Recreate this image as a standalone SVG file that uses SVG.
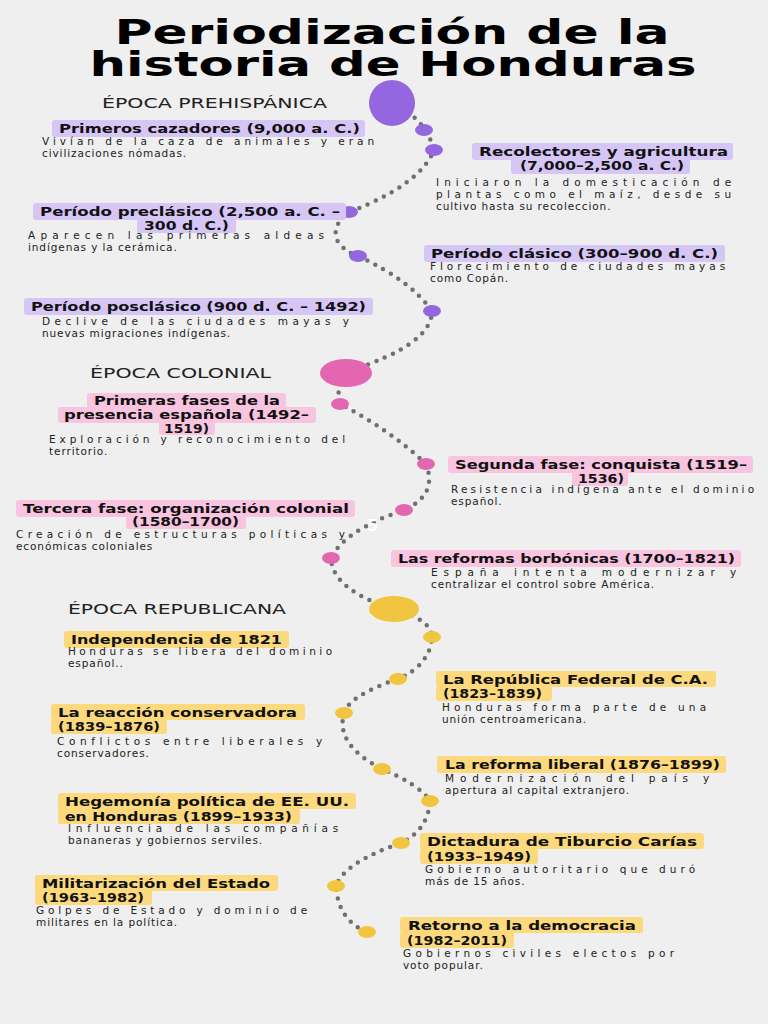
<svg xmlns="http://www.w3.org/2000/svg" width="768" height="1024" viewBox="0 0 768 1024">
<style>
.t{font-family:"DejaVu Sans","Liberation Sans",sans-serif;font-weight:700;font-size:12.5px;fill:#111}
.d{font-family:"DejaVu Sans","Liberation Sans",sans-serif;font-size:10.5px;fill:#222;letter-spacing:0.9px}
.h{font-family:"DejaVu Sans","Liberation Sans",sans-serif;font-size:14.5px;fill:#222}
.ti{font-family:"DejaVu Sans","Liberation Sans",sans-serif;font-weight:700;font-size:34px;fill:#000}
.p{fill:#d6c6f6}.k{fill:#f8c4df}.y{fill:#fbd97c}
.cp{fill:#9466e0}.ck{fill:#e465b0}.cy{fill:#f1c540}
</style>
<rect width="768" height="1024" fill="#efefef"/>
<text class="ti" x="392" y="44" text-anchor="middle" textLength="555" lengthAdjust="spacingAndGlyphs">Periodización de la</text>
<text class="ti" x="393" y="76" text-anchor="middle" textLength="607" lengthAdjust="spacingAndGlyphs">historia de Honduras</text>
<g id="connectors">
<path d="M392,103 Q420,118 424,130 Q432,140 434,150 Q420,185 349,212 Q328,228 340,245 Q350,254 358,256 Q410,280 432,311 Q432,345 346,372 Q335,392 340,404 Q390,430 426,464 Q438,495 404,510 Q345,530 331,558 Q332,590 394,609 Q432,620 432,637 Q430,665 398,679 Q350,695 344,713 Q335,745 382,769 Q420,785 430,801 Q428,830 401,843 Q345,862 336,886 Q338,920 367,932" fill="none" stroke="#707070" stroke-width="4.5" stroke-linecap="round" stroke-dasharray="0 9"/>
</g>
<g id="markers">
<circle class="cp" cx="392" cy="103" r="23"/>
<ellipse class="cp" cx="424" cy="130" rx="9" ry="6"/>
<ellipse class="cp" cx="434" cy="150" rx="9" ry="6"/>
<ellipse class="cp" cx="349" cy="212" rx="9" ry="6"/>
<ellipse class="cp" cx="358" cy="256" rx="9" ry="6"/>
<ellipse class="cp" cx="432" cy="311" rx="9" ry="6"/>
<ellipse class="ck" cx="346" cy="373" rx="26" ry="14"/>
<ellipse class="ck" cx="340" cy="404" rx="9" ry="6"/>
<ellipse class="ck" cx="426" cy="464" rx="9" ry="6"/>
<ellipse class="ck" cx="404" cy="510" rx="9" ry="6"/>
<ellipse class="ck" cx="331" cy="558" rx="9" ry="6"/>
<ellipse class="cy" cx="394" cy="609" rx="25" ry="13"/>
<ellipse class="cy" cx="432" cy="637" rx="9" ry="6"/>
<ellipse class="cy" cx="398" cy="679" rx="9" ry="6"/>
<ellipse class="cy" cx="344" cy="713" rx="9" ry="6"/>
<ellipse class="cy" cx="382" cy="769" rx="9" ry="6"/>
<ellipse class="cy" cx="430" cy="801" rx="9" ry="6"/>
<ellipse class="cy" cx="401" cy="843" rx="9" ry="6"/>
<ellipse class="cy" cx="336" cy="886" rx="9" ry="6"/>
<ellipse class="cy" cx="367" cy="932" rx="9" ry="6"/>
</g>
<text class="h" x="102" y="108" textLength="225" lengthAdjust="spacingAndGlyphs">ÉPOCA PREHISPÁNICA</text>
<text class="h" x="90" y="378" textLength="181" lengthAdjust="spacingAndGlyphs">ÉPOCA COLONIAL</text>
<text class="h" x="68" y="614" textLength="218" lengthAdjust="spacingAndGlyphs">ÉPOCA REPUBLICANA</text>

<g id="n1"><rect class="p" x="52" y="120" width="313" height="17" rx="3"/>
<text class="t" x="59" y="133" textLength="301" lengthAdjust="spacingAndGlyphs">Primeros cazadores (9,000 a. C.)</text>
<text class="d" x="42" y="145" textLength="333" lengthAdjust="spacing">Vivían de la caza de animales y eran</text>
<text class="d" x="42" y="157">civilizaciones nómadas.</text></g>

<g id="n2"><rect class="p" x="472" y="143" width="261" height="17" rx="3"/><rect class="p" x="511" y="158" width="179" height="16" rx="3"/>
<text class="t" x="479" y="156" textLength="249" lengthAdjust="spacingAndGlyphs">Recolectores y agricultura</text>
<text class="t" x="520" y="170" textLength="164" lengthAdjust="spacingAndGlyphs">(7,000–2,500 a. C.)</text>
<text class="d" x="436" y="186" textLength="296" lengthAdjust="spacing">Iniciaron la domesticación de</text>
<text class="d" x="436" y="198" textLength="296" lengthAdjust="spacing">plantas como el maíz, desde su</text>
<text class="d" x="436" y="210">cultivo hasta su recoleccion.</text></g>

<g id="n3"><rect class="p" x="33" y="203" width="313" height="17" rx="3"/><rect class="p" x="137" y="219" width="99" height="14" rx="3"/>
<text class="t" x="40" y="216" textLength="300" lengthAdjust="spacingAndGlyphs">Período preclásico (2,500 a. C. –</text>
<text class="t" x="144" y="230" textLength="85" lengthAdjust="spacingAndGlyphs">300 d. C.)</text>
<text class="d" x="28" y="239" textLength="297" lengthAdjust="spacing">Aparecen las primeras aldeas</text>
<text class="d" x="28" y="251">indígenas y la cerámica.</text></g>

<g id="n4"><rect class="p" x="424" y="245" width="301" height="17" rx="3"/>
<text class="t" x="431" y="258" textLength="287" lengthAdjust="spacingAndGlyphs">Período clásico (300–900 d. C.)</text>
<text class="d" x="430" y="270" textLength="296" lengthAdjust="spacing">Florecimiento de ciudades mayas</text>
<text class="d" x="430" y="282">como Copán.</text></g>

<g id="n5"><rect class="p" x="24" y="298" width="349" height="17" rx="3"/>
<text class="t" x="31" y="311" textLength="335" lengthAdjust="spacingAndGlyphs">Período posclásico (900 d. C. – 1492)</text>
<text class="d" x="42" y="325" textLength="308" lengthAdjust="spacing">Declive de las ciudades mayas y</text>
<text class="d" x="42" y="337">nuevas migraciones indígenas.</text></g>

<g id="n6"><rect class="k" x="87" y="393" width="199" height="16" rx="3"/><rect class="k" x="58" y="407" width="258" height="16" rx="3"/><rect class="k" x="159" y="421" width="56" height="14" rx="3"/>
<text class="t" x="94" y="405" textLength="186" lengthAdjust="spacingAndGlyphs">Primeras fases de la</text>
<text class="t" x="64" y="419" textLength="245" lengthAdjust="spacingAndGlyphs">presencia española (1492–</text>
<text class="t" x="164" y="433" textLength="45" lengthAdjust="spacingAndGlyphs">1519)</text>
<text class="d" x="49" y="443" textLength="297" lengthAdjust="spacing">Exploración y reconocimiento del</text>
<text class="d" x="49" y="455">territorio.</text></g>

<g id="n7"><rect class="k" x="448" y="456" width="305" height="17" rx="3"/><rect class="k" x="572" y="471" width="56" height="15" rx="3"/>
<text class="t" x="455" y="469" textLength="292" lengthAdjust="spacingAndGlyphs">Segunda fase: conquista (1519–</text>
<text class="t" x="578" y="483" textLength="46" lengthAdjust="spacingAndGlyphs">1536)</text>
<text class="d" x="451" y="493" textLength="304" lengthAdjust="spacing">Resistencia indígena ante el dominio</text>
<text class="d" x="451" y="505">español.</text></g>

<g id="n8"><rect class="k" x="16" y="500" width="339" height="17" rx="3"/><rect class="k" x="126" y="514" width="120" height="15" rx="3"/>
<text class="t" x="23" y="513" textLength="326" lengthAdjust="spacingAndGlyphs">Tercera fase: organización colonial</text>
<text class="t" x="132" y="526" textLength="107" lengthAdjust="spacingAndGlyphs">(1580–1700)</text>
<text class="d" x="16" y="538" textLength="330" lengthAdjust="spacing">Creación de estructuras políticas y</text>
<text class="d" x="16" y="550">económicas coloniales</text></g>
<text x="367" y="531" font-family="DejaVu Sans, sans-serif" font-weight="700" font-size="16" fill="#fff">5</text>

<g id="n9"><rect class="k" x="391" y="550" width="350" height="17" rx="3"/>
<text class="t" x="398" y="563" textLength="337" lengthAdjust="spacingAndGlyphs">Las reformas borbónicas (1700–1821)</text>
<text class="d" x="431" y="576" textLength="306" lengthAdjust="spacing">España intenta modernizar y</text>
<text class="d" x="431" y="588">centralizar el control sobre América.</text></g>

<g id="n10"><rect class="y" x="64" y="631" width="225" height="17" rx="3"/>
<text class="t" x="71" y="644" textLength="211" lengthAdjust="spacingAndGlyphs">Independencia de 1821</text>
<text class="d" x="68" y="655" textLength="265" lengthAdjust="spacing">Honduras se libera del dominio</text>
<text class="d" x="68" y="667">español..</text></g>

<g id="n11"><rect class="y" x="436" y="671" width="280" height="16" rx="3"/><rect class="y" x="436" y="686" width="116" height="15" rx="3"/>
<text class="t" x="443" y="684" textLength="265" lengthAdjust="spacingAndGlyphs">La República Federal de C.A.</text>
<text class="t" x="443" y="698" textLength="99" lengthAdjust="spacingAndGlyphs">(1823–1839)</text>
<text class="d" x="442" y="711" textLength="265" lengthAdjust="spacing">Honduras forma parte de una</text>
<text class="d" x="442" y="723">unión centroamericana.</text></g>

<g id="n12"><rect class="y" x="51" y="704" width="254" height="16" rx="3"/><rect class="y" x="51" y="719" width="116" height="15" rx="3"/>
<text class="t" x="58" y="717" textLength="239" lengthAdjust="spacingAndGlyphs">La reacción conservadora</text>
<text class="t" x="58" y="731" textLength="102" lengthAdjust="spacingAndGlyphs">(1839–1876)</text>
<text class="d" x="57" y="745" textLength="266" lengthAdjust="spacing">Conflictos entre liberales y</text>
<text class="d" x="57" y="757">conservadores.</text></g>

<g id="n13"><rect class="y" x="437" y="756" width="289" height="17" rx="3"/>
<text class="t" x="445" y="769" textLength="275" lengthAdjust="spacingAndGlyphs">La reforma liberal (1876–1899)</text>
<text class="d" x="445" y="782" textLength="265" lengthAdjust="spacing">Modernización del país y</text>
<text class="d" x="445" y="794">apertura al capital extranjero.</text></g>

<g id="n14"><rect class="y" x="58" y="793" width="298" height="16" rx="3"/><rect class="y" x="58" y="808" width="242" height="16" rx="3"/>
<text class="t" x="65" y="806" textLength="284" lengthAdjust="spacingAndGlyphs">Hegemonía política de EE. UU.</text>
<text class="t" x="65" y="821" textLength="227" lengthAdjust="spacingAndGlyphs">en Honduras (1899–1933)</text>
<text class="d" x="68" y="832" textLength="271" lengthAdjust="spacing">Influencia de las compañías</text>
<text class="d" x="68" y="844">bananeras y gobiernos serviles.</text></g>

<g id="n15"><rect class="y" x="420" y="833" width="284" height="16" rx="3"/><rect class="y" x="420" y="848" width="118" height="16" rx="3"/>
<text class="t" x="427" y="846" textLength="270" lengthAdjust="spacingAndGlyphs">Dictadura de Tiburcio Carías</text>
<text class="t" x="427" y="861" textLength="104" lengthAdjust="spacingAndGlyphs">(1933–1949)</text>
<text class="d" x="425" y="873" textLength="271" lengthAdjust="spacing">Gobierno autoritario que duró</text>
<text class="d" x="425" y="885">más de 15 años.</text></g>

<g id="n16"><rect class="y" x="35" y="875" width="243" height="16" rx="3"/><rect class="y" x="35" y="890" width="117" height="15" rx="3"/>
<text class="t" x="42" y="888" textLength="228" lengthAdjust="spacingAndGlyphs">Militarización del Estado</text>
<text class="t" x="42" y="902" textLength="102" lengthAdjust="spacingAndGlyphs">(1963–1982)</text>
<text class="d" x="36" y="914" textLength="272" lengthAdjust="spacing">Golpes de Estado y dominio de</text>
<text class="d" x="36" y="926">militares en la política.</text></g>

<g id="n17"><rect class="y" x="400" y="917" width="243" height="16" rx="3"/><rect class="y" x="400" y="932" width="114" height="16" rx="3"/>
<text class="t" x="408" y="930" textLength="228" lengthAdjust="spacingAndGlyphs">Retorno a la democracia</text>
<text class="t" x="407" y="945" textLength="100" lengthAdjust="spacingAndGlyphs">(1982–2011)</text>
<text class="d" x="403" y="957" textLength="272" lengthAdjust="spacing">Gobiernos civiles electos por</text>
<text class="d" x="403" y="969">voto popular.</text></g>
</svg>
